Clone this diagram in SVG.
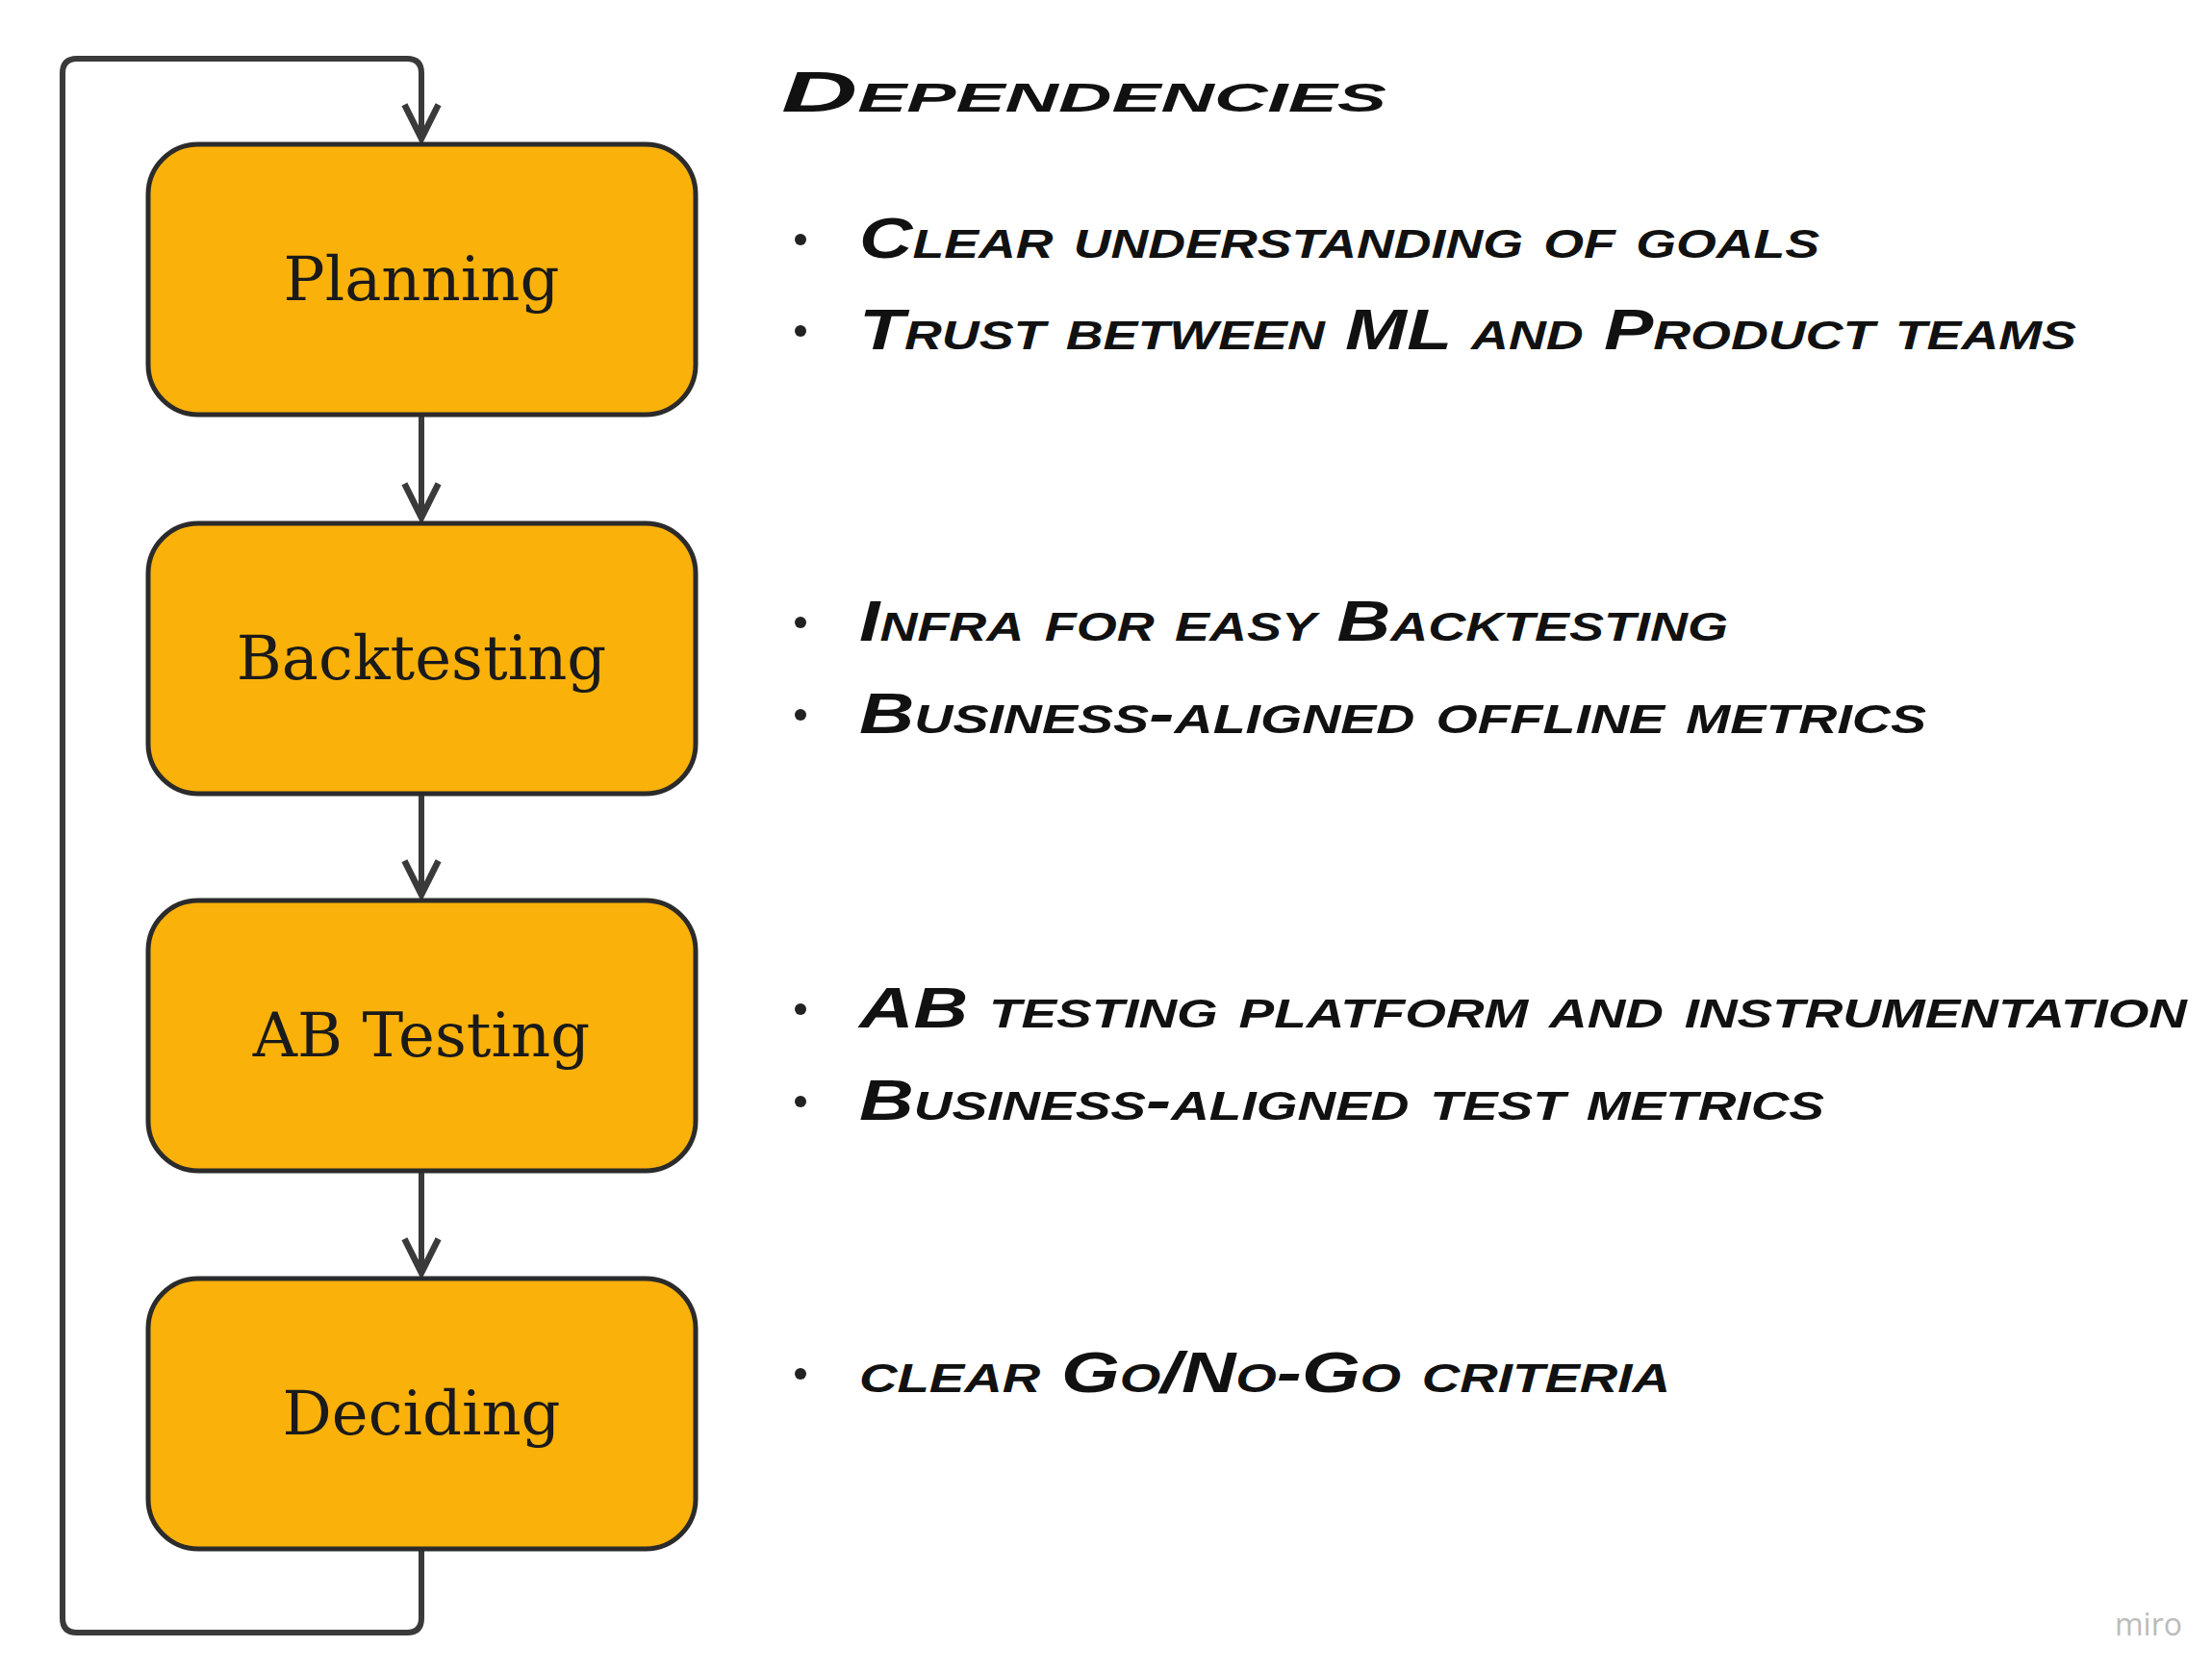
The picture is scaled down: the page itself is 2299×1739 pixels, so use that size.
<svg xmlns="http://www.w3.org/2000/svg" width="2299" height="1739" viewBox="0 0 2299 1739">
<style>
.box{fill:#fab10a;stroke:#2b2b2b;stroke-width:5}
.lbl{font-family:"DejaVu Serif",serif;font-size:64px;fill:#1a1a1a;text-anchor:middle}
.hand{font-family:"Liberation Sans",sans-serif;font-weight:bold;font-style:italic;font-variant:small-caps;font-size:60px;fill:#111}
.dot{fill:#222}
.con{fill:none;stroke:#3a3a3a;stroke-width:6}
</style>
<defs><marker id="ah" viewBox="0 0 10 10" refX="8" refY="5" markerWidth="5" markerHeight="5" orient="auto" markerUnits="userSpaceOnUse"><path d="M0,0L10,5L0,10" fill="none" stroke="#3a3a3a" stroke-width="2"/></marker>
<marker id="a" viewBox="0 0 20 20" refX="18" refY="10" markerWidth="44" markerHeight="44" markerUnits="userSpaceOnUse" orient="auto"><path d="M2,2L18,10L2,18" fill="none" stroke="#3a3a3a" stroke-width="3"/></marker></defs>
<rect width="2299" height="1739" fill="#fff"/>
<g id="connectors">
<path class="con" d="M438,431V538" marker-end="url(#a)"/>
<path class="con" d="M438,825V930" marker-end="url(#a)"/>
<path class="con" d="M438,1217V1323" marker-end="url(#a)"/>
<path class="con" d="M438,1610V1682Q438,1697 423,1697H80Q65,1697 65,1682V76Q65,61 80,61H423Q438,61 438,76V144" marker-end="url(#a)"/>
</g>
<g id="planning"><rect class="box" x="154" y="150" width="569" height="281" rx="52"/><text class="lbl" x="438" y="312">Planning</text></g>
<g id="backtesting"><rect class="box" x="154" y="544" width="569" height="281" rx="52"/><text class="lbl" x="438" y="706">Backtesting</text></g>
<g id="abtesting"><rect class="box" x="154" y="936" width="569" height="281" rx="52"/><text class="lbl" x="438" y="1098">AB Testing</text></g>
<g id="deciding"><rect class="box" x="154" y="1329" width="569" height="281" rx="52"/><text class="lbl" x="438" y="1491">Deciding</text></g>
<g id="notes">
<text class="hand" x="812" y="116" font-size="84" textLength="629" lengthAdjust="spacingAndGlyphs">Dependencies</text>
<g class="dot"><circle cx="832" cy="249" r="6"/><circle cx="832" cy="344" r="6"/><circle cx="832" cy="647" r="6"/><circle cx="832" cy="743" r="6"/><circle cx="832" cy="1049" r="6"/><circle cx="832" cy="1145" r="6"/><circle cx="832" cy="1428" r="6"/></g>
<text class="hand" x="893" y="268" textLength="998" lengthAdjust="spacingAndGlyphs">Clear understanding of goals</text>
<text class="hand" x="893" y="363" textLength="1265" lengthAdjust="spacingAndGlyphs">Trust between ML and Product teams</text>
<text class="hand" x="893" y="666" textLength="903" lengthAdjust="spacingAndGlyphs">Infra for easy Backtesting</text>
<text class="hand" x="893" y="762" textLength="1109" lengthAdjust="spacingAndGlyphs">Business-aligned offline metrics</text>
<text class="hand" x="893" y="1068" textLength="1380" lengthAdjust="spacingAndGlyphs">AB testing platform and instrumentation</text>
<text class="hand" x="893" y="1164" textLength="1003" lengthAdjust="spacingAndGlyphs">Business-aligned test metrics</text>
<text class="hand" x="893" y="1447" textLength="843" lengthAdjust="spacingAndGlyphs">clear Go/No-Go criteria</text>
</g>
<text x="2268" y="1700" font-family="'Open Sans',sans-serif" font-size="32" fill="#bbb" text-anchor="end">miro</text>
</svg>
